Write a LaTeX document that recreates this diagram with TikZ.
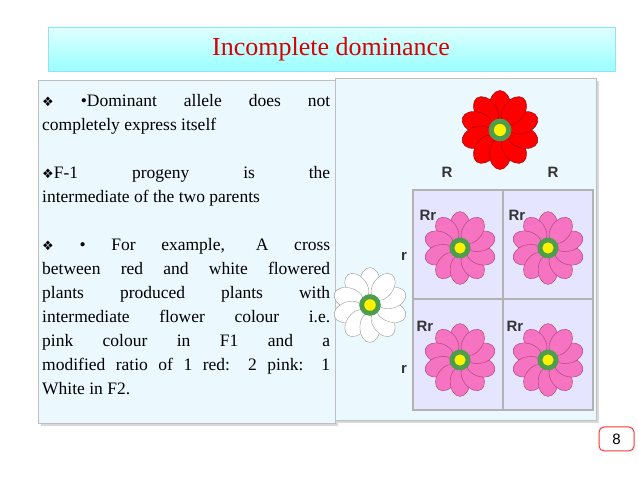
\documentclass[tikz,border=0pt]{standalone}
\usepackage{fontspec}
\setmainfont{Liberation Serif}
\newfontfamily\djf{DejaVu Sans}
\newfontfamily\lsans{Liberation Sans}
\begin{document}
\begin{tikzpicture}[x=1pt,y=-1pt,
  lbl/.style={font=\lsans\bfseries\fontsize{15}{16}\selectfont,text=black!80},
  box/.style={draw=black!25,fill=cyan!8}]
\useasboundingbox (0,0) rectangle (638,478);
\fill[white] (0,0) rectangle (638,478);
% title
\shade[top color=cyan!12,bottom color=cyan!40,draw=cyan!40] (48,27) rectangle (615,71);
\node (title) at (331,49) {\color{red!85!black}\fontsize{26}{28}\selectfont Incomplete dominance};
% left box
\fill[black!15] (41,83) rectangle (338,426);
\draw[box] (38,80) rectangle (335,423);
\node[anchor=north west,inner sep=0pt,text width=288pt,align=justify] (txt) at (42,94) {\fontsize{17.5}{24}\selectfont
{\djf\fontsize{13}{24}\selectfont ❖} •Dominant allele does not\linebreak completely express itself\par\vspace{24pt}
{\djf\fontsize{13}{24}\selectfont ❖}F-1 progeny is the\linebreak intermediate of the two parents\par\vspace{24pt}
{\djf\fontsize{13}{24}\selectfont ❖} • For example, A cross\linebreak between red and white flowered\linebreak plants produced plants with\linebreak intermediate flower colour i.e.\linebreak pink colour in F1 and a\linebreak modified ratio of 1 red: 2 pink: 1\linebreak White in F2.\par};
% right panel
\fill[black!15] (338,81) rectangle (599,423);
\draw[box] (335,78) rectangle (596,420);
% punnett
\draw[fill=blue!10,draw=black!30,line width=1.5pt] (413,190) rectangle (593,410);
\draw[draw=black!30,line width=1.5pt] (503,190) -- (503,410) (413,299) -- (593,299);
\newcommand\flw[4]{%
 \begin{scope}[shift={(#1)}]
 \foreach \a in {0,36,...,324}{\draw[fill=#2,draw=#3,rotate=\a] (0,-#4*0.62) ellipse ({#4*0.28} and {#4*0.42});}
 \fill[green!45!black!70] (0,0) circle (#4*0.3);
 \fill[yellow] (0,0) circle (#4*0.16);
 \end{scope}}
\flw{500,130}{red}{red!60!black}{38}
\flw{370,305}{white}{black!40}{36}
\flw{460,248}{magenta!55}{magenta!60!black}{35}
\flw{548,248}{magenta!55}{magenta!60!black}{35}
\flw{460,360}{magenta!55}{magenta!60!black}{35}
\flw{548,360}{magenta!55}{magenta!60!black}{35}
\node[lbl] (R1) at (447,172) {R};
\node[lbl] (R2) at (553,172) {R};
\node[lbl] (r1) at (404,256) {r};
\node[lbl] (r2) at (404,369) {r};
\node[lbl] (c1) at (428,215) {Rr};
\node[lbl] (c2) at (517,215) {Rr};
\node[lbl] (c3) at (425,326) {Rr};
\node[lbl] (c4) at (515,326) {Rr};
% page number
\draw[red!80,fill=white,line width=1pt,rounded corners=5pt] (599,427) rectangle (634,451);
\node (pg) at (616.5,439) {\lsans\fontsize{15}{16}\selectfont 8};
\end{tikzpicture}
\end{document}
